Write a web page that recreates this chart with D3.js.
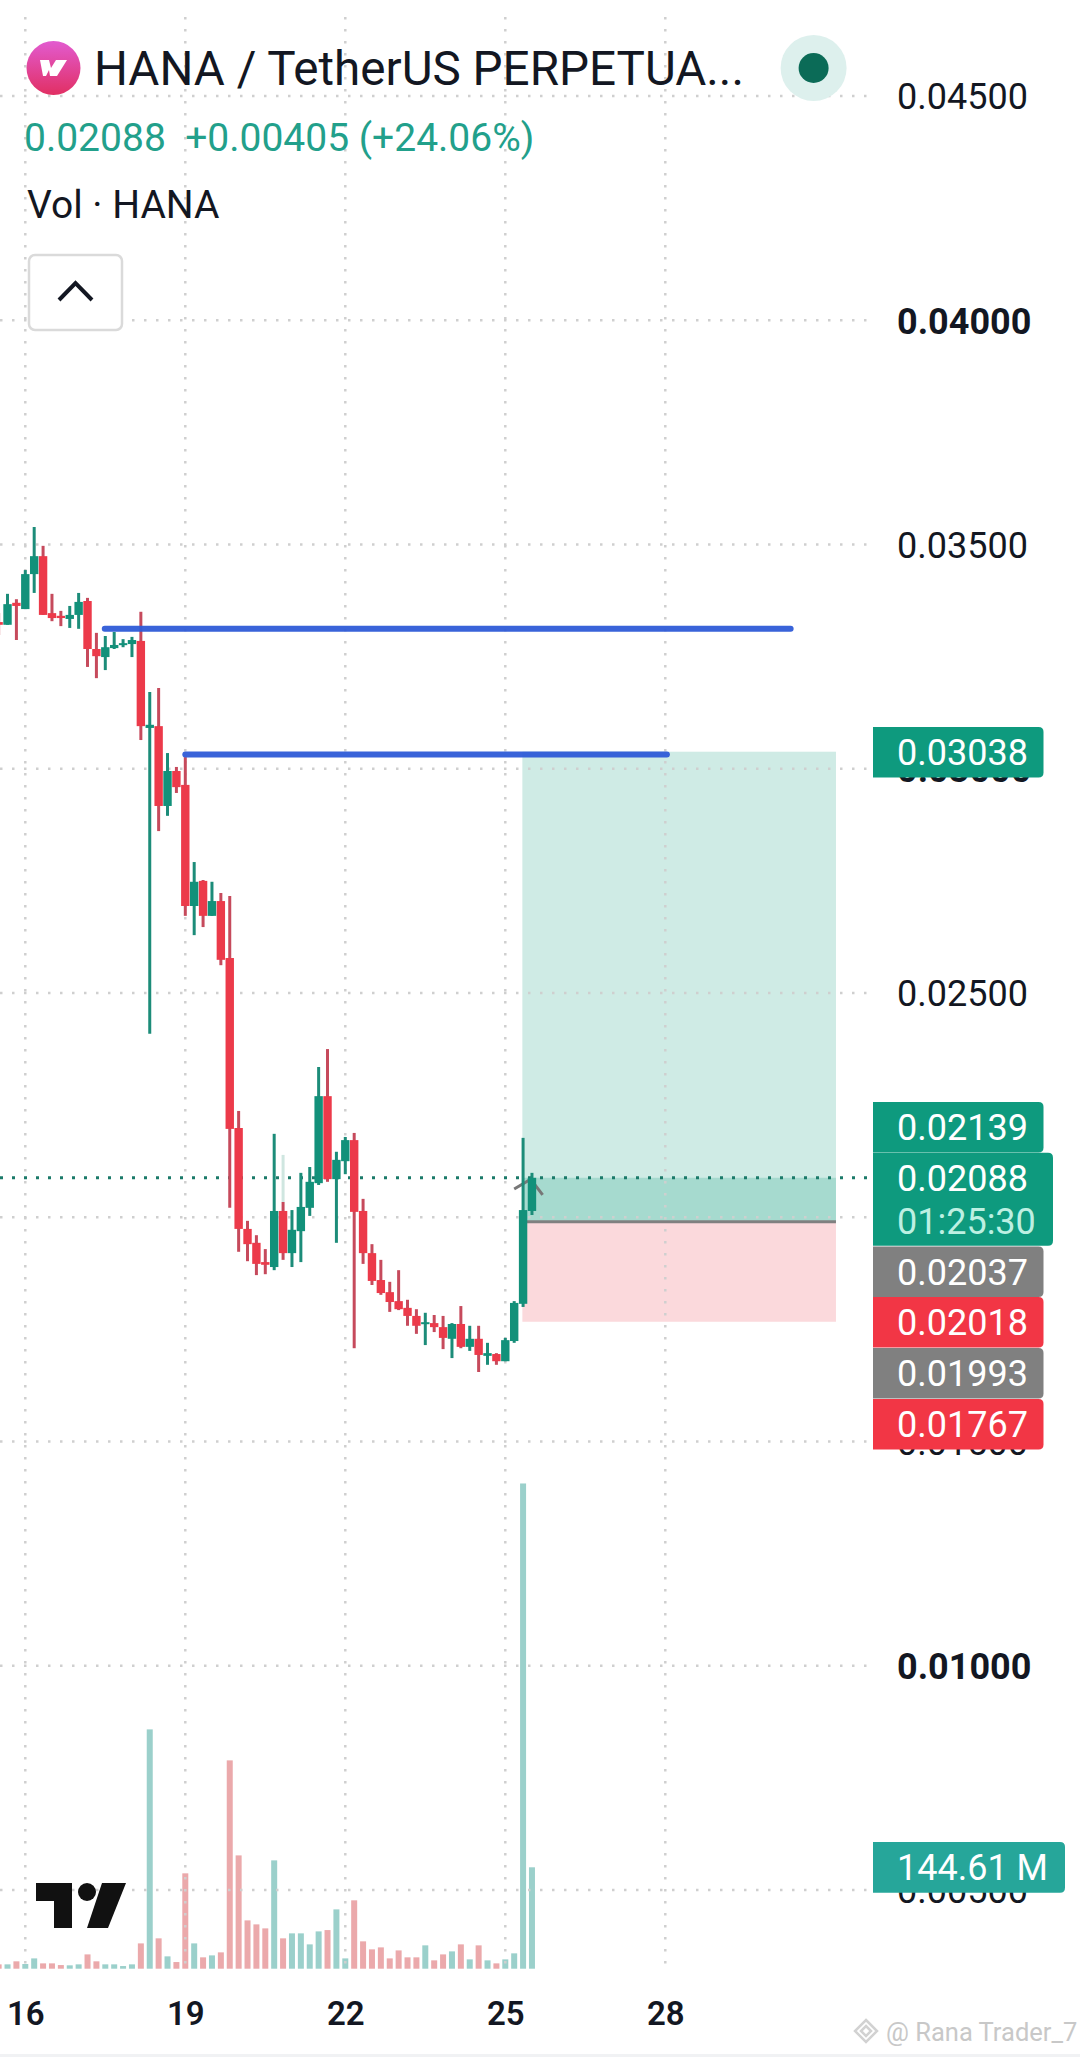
<!DOCTYPE html>
<html><head><meta charset="utf-8">
<script src="https://cdn.jsdelivr.net/npm/d3@7/dist/d3.min.js"></script>
<style>
html,body{margin:0;padding:0;background:#fff}
svg{display:block}
text{font-family:Roboto,sans-serif}
</style></head><body>
<svg id="c" width="1080" height="2057"></svg>
<script>
const firstDay = 16, candlesPerDay = 6, firstOffset = -3;
const opens  = [.03327,.03321,.03370,.03356,.03434,.03474,.03347,.03341,.03334,.03343,.03374,.03267,.03249,.03269,.03276,.03278,.03285,.03091,.03095,.02917,.02995,.02964,.02694,.02750,.02672,.02705,.02578,.02199,.01974,.01943,.01900,.01889,.02014,.01920,.01969,.02021,.02076,.02270,.02085,.02125,.02172,.02014,.01920,.01860,.01833,.01813,.01798,.01780,.01762,.01764,.01755,.01729,.01762,.01711,.01729,.01691,.01695,.01679,.01724,.01807,.02014];
const highs  = [.03347,.03390,.03378,.03443,.03539,.03497,.03390,.03352,.03363,.03392,.03381,.03303,.03296,.03305,.03289,.03294,.03350,.03171,.03180,.03035,.03004,.03026,.02792,.02752,.02748,.02723,.02716,.02237,.01992,.01960,.01929,.02186,.02034,.02016,.02099,.02112,.02335,.02375,.02146,.02179,.02188,.02041,.01940,.01905,.01856,.01882,.01816,.01795,.01787,.01782,.01780,.01764,.01802,.01758,.01758,.01720,.01697,.01731,.01813,.02177,.02099];
const lows   = [.03298,.03321,.03287,.03356,.03392,.03343,.03329,.03318,.03314,.03312,.03227,.03202,.03220,.03267,.03271,.03249,.03064,.02409,.02861,.02895,.02946,.02672,.02629,.02647,.02672,.02562,.02021,.01923,.01902,.01871,.01873,.01882,.01905,.01889,.01900,.02003,.02072,.02079,.01943,.02096,.01708,.01896,.01849,.01827,.01789,.01793,.01758,.01740,.01715,.01744,.01706,.01686,.01708,.01702,.01655,.01671,.01671,.01679,.01720,.01800,.02005];
const closes = [.03321,.03367,.03363,.03434,.03474,.03343,.03336,.03336,.03343,.03372,.03267,.03251,.03271,.03276,.03280,.03287,.03095,.03098,.02917,.02995,.02959,.02694,.02748,.02672,.02705,.02574,.02197,.01974,.01940,.01896,.01894,.02014,.01920,.01972,.02023,.02079,.02270,.02085,.02128,.02172,.02012,.01920,.01858,.01831,.01811,.01795,.01780,.01758,.01766,.01755,.01731,.01762,.01711,.01729,.01693,.01697,.01679,.01726,.01809,.02016,.02088];
const volumes = [6.2,6.2,10.5,6.7,14.7,7.6,7.6,5.2,4.8,6.2,20.4,10.5,6.2,6.2,3.8,6.2,36.1,341.3,43.3,17.6,9.5,136,36.1,16.2,19,23.3,297.1,161.6,68.9,63.2,57.5,154.5,43.3,50.4,50.4,34.7,53.2,55.1,84.6,14.7,97.5,39,27.6,30.4,14.7,26.1,16.2,16.2,33.3,11.9,20.4,24.7,34.7,13.3,33.3,11.9,7.6,13.3,21.9,692,144.61];
const priceTicks = [.045,.04,.035,.03,.025,.02,.015,.01,.005];
const boldTicks = [.04,.03,.01];
const dayTicks = [16,19,22,25,28];
const currentPrice = .02088;
const levelLines = [{from:17.49,to:30.35,price:.03312},{from:19,to:28.03,price:.03032}];
const position = {from:25.32,to:31.2,top:.03038,entry:.01990,stop:.01767};
const ghostWick = {index:32,high:.02139,low:.02034};
const tradePath = [[55,.02063],[56.86,.02085],[58.2,.02050]];
const priceTags = [["0.03038","#0E9A7E"],["0.02139","#0E9A7E"],["0.02037","#808080"],["0.02018","#F23645"],["0.01993","#808080"],["0.01767","#F23645"]];
const tagTops = [727,1102,1246.5,1297,1348,1399];

const candles = opens.map((o,i)=>({o,h:highs[i],l:lows[i],c:closes[i],v:volumes[i],day:firstDay+(i+firstOffset)/candlesPerDay}));

const svg = d3.select("#c");
const x = d3.scaleLinear().domain([16,28]).range([25.3,665.3]);
const y = d3.scaleLinear().domain([.045,.005]).range([96,1890]);
const vy = d3.scaleLinear().domain([0,144.61]).range([1968.7,1867.3]);

const GREEN="#12917A",RED="#EC3A4A",GW="#1C8C79",RW="#C64A5C";

// volumes
svg.append("g").selectAll("rect").data(candles).join("rect")
  .attr("x",d=>x(d.day)-3).attr("width",6)
  .attr("y",d=>vy(d.v)).attr("height",d=>vy(0)-vy(d.v))
  .attr("fill",d=>d.c>=d.o?"#9BD0CB":"#EBA9AB");

// position tool
const px0=x(position.from),px1=x(position.to);
svg.append("rect").attr("x",px0).attr("width",px1-px0).attr("y",y(position.top)).attr("height",y(position.entry)-y(position.top)).attr("fill","#CFEBE5");
svg.append("rect").attr("x",px0).attr("width",px1-px0).attr("y",y(currentPrice)).attr("height",y(position.entry)-y(currentPrice)).attr("fill","#A6DACF");
svg.append("rect").attr("x",px0).attr("width",px1-px0).attr("y",y(position.entry)).attr("height",y(position.stop)-y(position.entry)).attr("fill","#FBD9DC");
svg.append("line").attr("x1",px0).attr("x2",px1).attr("y1",y(position.entry)).attr("y2",y(position.entry)).attr("stroke","#808080").attr("stroke-width",3);

// grid
const grid = svg.append("g").attr("stroke","#CFCFCF").attr("stroke-width",2.5).attr("stroke-dasharray","2.5 9.5");
grid.selectAll("line.h").data(priceTicks).join("line").attr("class","h").attr("x1",0).attr("x2",868).attr("y1",d=>y(d)).attr("y2",d=>y(d));
grid.selectAll("line.v").data(dayTicks).join("line").attr("class","v").attr("x1",d=>x(d)).attr("x2",d=>x(d)).attr("y1",17).attr("y2",1968);

// current price line
svg.append("line").attr("x1",0).attr("x2",868).attr("y1",y(currentPrice)).attr("y2",y(currentPrice)).attr("stroke","#1B7A69").attr("stroke-width",3).attr("stroke-dasharray","3 9");

// trade path
svg.append("path").attr("d",d3.line().x(d=>x(firstDay+d[0]/candlesPerDay)).y(d=>y(d[1]))(tradePath)).attr("fill","none").attr("stroke","#777").attr("stroke-width",3);

// candles
const cg = svg.append("g");
cg.selectAll("line.w").data(candles).join("line").attr("class","w")
  .attr("x1",d=>x(d.day)).attr("x2",d=>x(d.day)).attr("y1",d=>y(d.h)).attr("y2",d=>y(d.l))
  .attr("stroke",d=>d.c>=d.o?GW:RW).attr("stroke-width",3);
cg.selectAll("rect").data(candles).join("rect")
  .attr("x",d=>x(d.day)-4.2).attr("width",8.4)
  .attr("y",d=>y(Math.max(d.o,d.c))).attr("height",d=>Math.max(2,Math.abs(y(d.o)-y(d.c))))
  .attr("fill",d=>d.c>=d.o?GREEN:RED);
const gx=x(firstDay+(ghostWick.index+firstOffset)/candlesPerDay);
svg.append("line").attr("x1",gx).attr("x2",gx).attr("y1",y(ghostWick.high)).attr("y2",y(ghostWick.low)).attr("stroke","#CFE6E0").attr("stroke-width",3);

// level lines
svg.append("g").selectAll("line").data(levelLines).join("line")
  .attr("x1",d=>x(d.from)).attr("x2",d=>x(d.to)).attr("y1",d=>y(d.price)).attr("y2",d=>y(d.price))
  .attr("stroke","#2F5BD8").attr("stroke-width",6).attr("stroke-linecap","round").attr("opacity",.95);

// price axis
const yAxis = d3.axisRight(y).tickValues(priceTicks).tickFormat(d=>d.toFixed(5)).tickSize(0).tickPadding(0);
const ya = svg.append("g").attr("transform","translate(897,0)").call(yAxis);
ya.select(".domain").remove();
ya.selectAll("text").attr("font-size",36).attr("fill","#131722").attr("font-family","Roboto").attr("dy","0.355em")
  .attr("font-weight",d=>boldTicks.includes(d)?700:400);

// day axis
const xAxis = d3.axisBottom(x).tickValues(dayTicks).tickFormat(d=>d).tickSize(0).tickPadding(0);
const xa = svg.append("g").attr("transform","translate(0,2002)").call(xAxis);
xa.select(".domain").remove();
xa.selectAll("text").attr("font-size",33).attr("font-family","Open Sans").attr("font-weight",600).attr("fill","#131722").attr("dy","0.71em");

// price tags
function tag(x0,y0,w,h,fill){
  const r=5;
  svg.append("path").attr("fill",fill)
   .attr("d",`M${x0},${y0}H${x0+w-r}Q${x0+w},${y0} ${x0+w},${y0+r}V${y0+h-r}Q${x0+w},${y0+h} ${x0+w-r},${y0+h}H${x0}Z`);
}
function tagText(t,yc,fill,xx){
  svg.append("text").attr("x",xx||897).attr("y",yc).attr("dy","0.355em").attr("font-size",36).attr("fill",fill||"#fff").text(t);
}
priceTags.forEach((p,i)=>{
  tag(873,tagTops[i],170.5,50.5,p[1]);
  tagText(p[0],tagTops[i]+25.5);
});
tag(873,1152.7,180,93,"#0E9A7E");
tagText("0.02088",1178);
tagText("01:25:30",1221,"#BDF0E2");
tag(873,1842,192,50.7,"#26A69A");
tagText("144.61 M",1867.5,"#fff",897);

// header
const defs = svg.append("defs");
const g = defs.append("linearGradient").attr("id","logo").attr("x1",0).attr("y1",0).attr("x2",0).attr("y2",1);
g.append("stop").attr("offset",0).attr("stop-color","#E25BD0");
g.append("stop").attr("offset",1).attr("stop-color","#E12F63");
svg.append("circle").attr("cx",53.5).attr("cy",68).attr("r",27).attr("fill","url(#logo)");
svg.append("path").attr("d","M40,60H49L51,68L56,60H67L57,76H50L49,70L46,76H43Z").attr("fill","#fff");
svg.append("text").attr("x",94).attr("y",68).attr("dy","0.355em").attr("font-size",47.6).attr("fill","#131722").text("HANA / TetherUS PERPETUA...");
svg.append("circle").attr("cx",813.6).attr("cy",68).attr("r",33).attr("fill","#DDF0ED");
svg.append("circle").attr("cx",813.6).attr("cy",68).attr("r",15).attr("fill","#0B6B57");
svg.append("text").attr("x",24).attr("y",137).attr("dy","0.355em").attr("font-size",39).attr("fill","#22A08B").attr("xml:space","preserve").text("0.02088  +0.00405 (+24.06%)");
svg.append("text").attr("x",27).attr("y",204).attr("dy","0.355em").attr("font-size",39).attr("fill","#131722").text("Vol · HANA");
svg.append("rect").attr("x",29).attr("y",255).attr("width",93).attr("height",75).attr("rx",6).attr("fill","#fff").attr("stroke","#DADADA").attr("stroke-width",2.5);
svg.append("path").attr("d","M59,300L75.5,283L92,300").attr("fill","none").attr("stroke","#131722").attr("stroke-width",4);

// TradingView mark
svg.append("path").attr("fill","#111").attr("d","M36,1883H72V1928H54V1901H36Z");
svg.append("circle").attr("cx",87).attr("cy",1892).attr("r",9).attr("fill","#111");
svg.append("path").attr("fill","#111").attr("d","M102,1883H126L108,1928H87Z");

// watermark
const wm = svg.append("g").attr("fill","none").attr("stroke","#D2D2D2").attr("stroke-width",2.5);
wm.append("path").attr("d","M866,2020L877,2031L866,2042L855,2031Z");
wm.append("path").attr("d","M866,2026L871,2031L866,2036L861,2031Z");
svg.append("text").attr("x",886).attr("y",2032).attr("dy","0.355em").attr("font-size",25.5).attr("fill","#C8C8C8").text("@ Rana Trader_7");

// bottom strip
svg.append("rect").attr("x",0).attr("y",2054).attr("width",1080).attr("height",3).attr("fill","#F1F2F4");
</script>
</body></html>
